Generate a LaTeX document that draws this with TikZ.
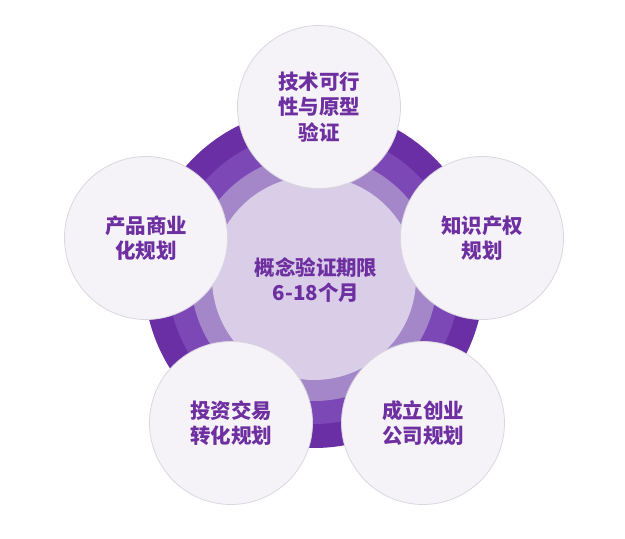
\documentclass[tikz,border=0pt]{standalone}
\usepackage{fontspec}
\newfontfamily\cjk{Noto Sans CJK SC}[BoldFont={Noto Sans CJK SC Black}]
\definecolor{ringdark}{HTML}{6A2FA5}
\definecolor{ringmid}{HTML}{7C48B5}
\definecolor{ringlight}{HTML}{A387C9}
\definecolor{corefill}{HTML}{D9CDE8}
\definecolor{txtpurple}{HTML}{6E2FA0}
\definecolor{bubblefill}{HTML}{F5F3F8}
\definecolor{bubbleedge}{HTML}{DAD6E0}
\tikzset{
  bubble/.style={circle, minimum size=163pt, inner sep=0pt, fill=bubblefill, draw=bubbleedge, line width=0.8pt,
    align=center, text=txtpurple, font=\cjk\bfseries\fontsize{20.5}{25.5}\selectfont},
  coretext/.style={align=center, text=txtpurple, font=\cjk\bfseries\fontsize{20.5}{25}\selectfont}
}
\begin{document}
\begin{tikzpicture}[x=1pt,y=-1pt]
\useasboundingbox (0,0) rectangle (625,539);
\coordinate (c) at (314,278);
\fill[ringdark] (c) circle[radius=170];
\fill[ringmid] (c) circle[radius=146];
\fill[ringlight] (c) circle[radius=123];
\fill[corefill] (c) circle[radius=102];
\node[coretext] (core) at (316,280) {概念验证期限\\6-18个月};
\node[bubble] (tech) at (319,107) {技术可行\\性与原型\\验证};
\node[bubble] (prod) at (146,238) {产品商业\\化规划};
\node[bubble] (ip) at (482,238) {知识产权\\规划};
\node[bubble] (inv) at (231,423) {投资交易\\转化规划};
\node[bubble] (corp) at (423,423) {成立创业\\公司规划};
\end{tikzpicture}
\end{document}
